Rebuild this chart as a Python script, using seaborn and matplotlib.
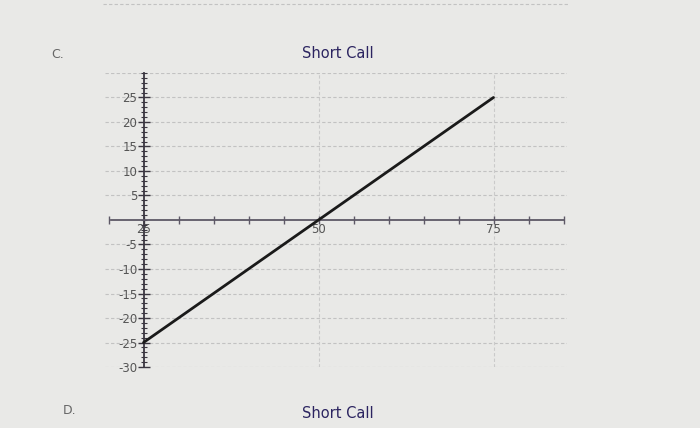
import numpy as np
import pandas as pd
import matplotlib
matplotlib.use("Agg")
import matplotlib.pyplot as plt
from matplotlib.lines import Line2D
import seaborn as sns

# Data
stock_price = [25, 75]
profit = [-25, 25]
x_tick_values = [25, 50, 75]
y_tick_values = [-30, -25, -20, -15, -10, -5, 5, 10, 15, 20, 25]
title_text = "Short Call"
option_labels = ["C.", "D."]

sns.set_theme(style="white")
plt.rcParams['font.family'] = ['DejaVu Sans']

BG = "#e9e9e7"
fig = plt.figure(figsize=(7.0, 4.28), dpi=100, facecolor=BG)
ax = fig.add_axes([0.15, 0.1425, 0.66, 0.687], facecolor=BG)

df = pd.DataFrame({"price": stock_price, "profit": profit})

ax.set_xlim(19.5, 85.5)
ax.set_ylim(-30, 30)

# grid
for yv in range(-30, 31, 5):
    if yv == 0:
        continue
    ax.axhline(yv, color="#c2c2c2", lw=0.8, ls=(0, (3, 2)), zorder=0)
for xv in [50, 75]:
    ax.axvline(xv, color="#cacaca", lw=0.8, ls=(0, (3, 2)), zorder=0)

sns.lineplot(data=df, x="price", y="profit", ax=ax, color="#1a1a1a", lw=2.0, zorder=3)

for s in ["top", "right"]:
    ax.spines[s].set_visible(False)
ax.spines["bottom"].set_position(("data", 0))
ax.spines["left"].set_position(("data", 25))
ax.spines["bottom"].set_color("#5d5866")
ax.spines["left"].set_color("#3a3640")
ax.spines["bottom"].set_linewidth(1.3)
ax.spines["left"].set_linewidth(1.3)
ax.spines["bottom"].set_bounds(20.3, 85)

ax.set_xticks(x_tick_values)
ax.set_xticks(np.arange(20, 86, 5), minor=True)
ax.set_yticks(y_tick_values)
ax.set_yticks(np.arange(-30, 31, 1), minor=True)
ax.set_xticklabels([str(v) for v in x_tick_values])
ax.set_yticklabels([str(v) for v in y_tick_values])

ax.tick_params(axis="x", which="both", direction="inout", length=6, width=1,
               color="#5d5866", labelsize=8.5, labelcolor="#555555", pad=-1)
ax.tick_params(axis="y", which="major", direction="inout", length=9, width=1,
               color="#3a3640", labelsize=8.5, labelcolor="#555555", pad=0)
ax.tick_params(axis="y", which="minor", direction="inout", length=4, width=0.8,
               color="#3a3640")
ax.tick_params(left=True, bottom=True, which="both")
ax.set_xlabel("")
ax.set_ylabel("")
ax.grid(False)

# remnant dashed line of the chart above
fig.add_artist(Line2D([0.147, 0.813], [0.991, 0.991], transform=fig.transFigure,
                      color="#c2c2c2", lw=0.8, ls=(0, (3, 2))))

fig.text(0.482, 0.876, title_text, ha="center", va="center", fontsize=10.5,
         color="#2b2460")
fig.text(0.083, 0.872, option_labels[0], ha="center", va="center", fontsize=9,
         color="#666666")
fig.text(0.482, 0.035, title_text, ha="center", va="center", fontsize=10.5,
         color="#2b2460")
fig.text(0.100, 0.042, option_labels[1], ha="center", va="center", fontsize=9,
         color="#666666")

fig.savefig("out.png", dpi=100, facecolor=BG)
